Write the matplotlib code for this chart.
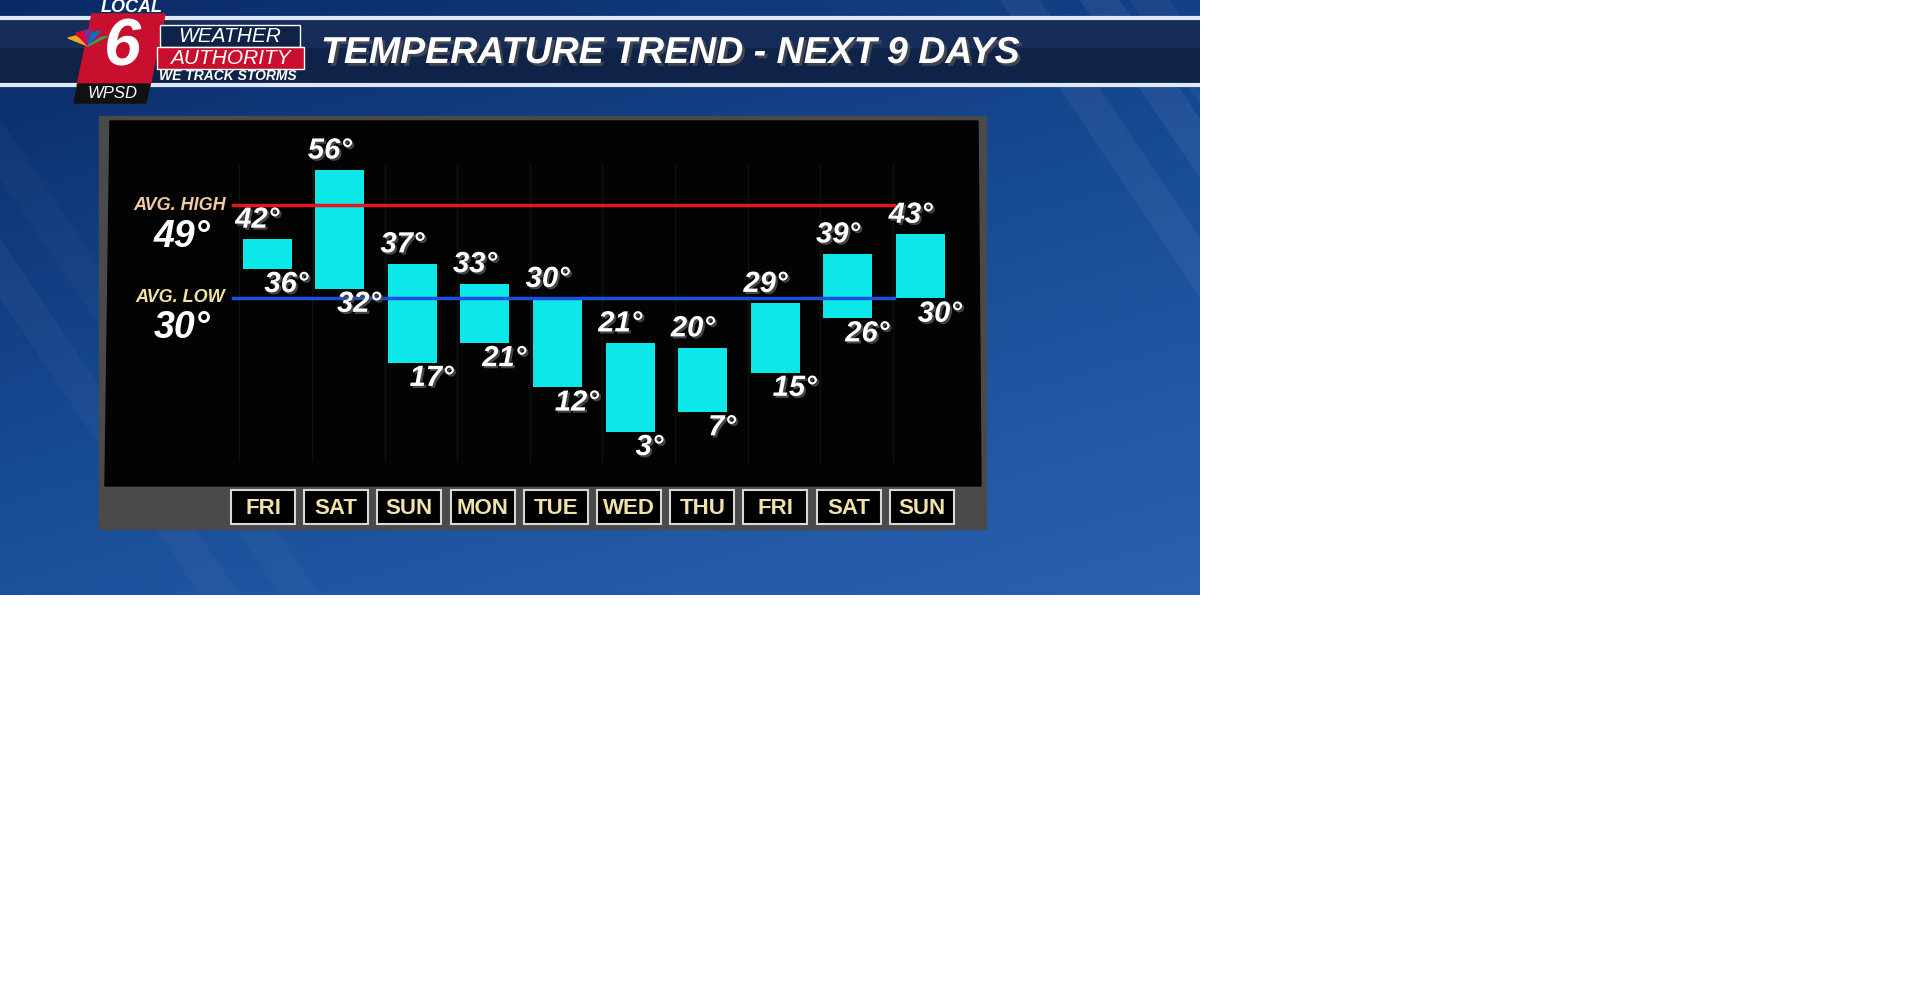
import numpy as np
import matplotlib
matplotlib.use('Agg')
import matplotlib.pyplot as plt
from matplotlib.patches import Rectangle, Polygon
import matplotlib.patheffects as pe

##      DATA       ##
days = ['FRI', 'SAT', 'SUN', 'MON', 'TUE', 'WED', 'THU', 'FRI', 'SAT', 'SUN']
highs = [42, 56, 37, 33, 30, 21, 20, 29, 39, 43]
lows = [36, 32, 17, 21, 12, 3, 7, 15, 26, 30]
avg_high = 49
avg_low = 30
title = 'TEMPERATURE TREND - NEXT 9 DAYS'

W, H = 1200, 595   # graphic size in pixels, top-left of the canvas
FONT = ['Liberation Sans Narrow', 'Liberation Sans', 'DejaVu Sans']

fig = plt.figure(figsize=(19.2, 10.08), dpi=100)
fig.patch.set_facecolor('white')

# background axes in pixel coords
bg = fig.add_axes([0, 1 - H / 1008, W / 1920, H / 1008])
bg.set_xlim(0, W)
bg.set_ylim(H, 0)
bg.axis('off')

# blue gradient background
yy, xx = np.mgrid[0:1:200j, 0:1:300j]
grad = 0.35 + 0.35 * yy + 0.2 * xx
bg.imshow(grad, extent=(0, W, H, 0), cmap=matplotlib.colors.LinearSegmentedColormap.from_list(
    'b', ['#0a2a66', '#174a94', '#2a62b0']), aspect='auto', zorder=0)
# light diagonal streaks
for x0, a in [(-200, 0.03), (-120, 0.025), (1000, 0.05), (1080, 0.06), (1130, 0.04)]:
    bg.add_patch(Polygon([(x0, 0), (x0 + 40, 0), (x0 + 40 + 400, H), (x0 + 400, H)],
                         color='white', alpha=a, lw=0, zorder=1))

# header band
bg.add_patch(Rectangle((0, 17), W, 68, color='#0f2248', zorder=2))
bg.add_patch(Rectangle((0, 17), W, 30, color='#1b3566', alpha=0.6, zorder=2))
bg.plot([0, W], [18, 18], color='#dfe8f5', lw=3, zorder=3)
bg.plot([0, W], [85, 85], color='#dfe8f5', lw=3, zorder=3)
bg.text(321, 53, title, color='white', fontsize=27, fontweight='bold', style='italic',
        family=FONT, va='center', ha='left', zorder=4,
        path_effects=[pe.withSimplePatchShadow(offset=(2, -2), alpha=0.8)])

# logo
bg.add_patch(Polygon([(92, 14), (165, 14), (150, 86), (77, 86)], color='#c8102e', zorder=4))
bg.add_patch(Polygon([(78, 84), (150, 84), (146, 103), (74, 103)], color='#111111', zorder=4))
bg.text(122, 48, '6', color='white', fontsize=48, fontweight='bold', style='italic',
        family=FONT, ha='center', va='center', zorder=5)
bg.text(132, 7, 'LOCAL', color='white', fontsize=13, fontweight='bold', style='italic',
        family=FONT, ha='center', va='center', zorder=5)
bg.text(113, 94, 'WPSD', color='white', fontsize=12, style='italic',
        family=FONT, ha='center', va='center', zorder=5)
for cx, cy, c in [(72, 38, '#f5a623'), (80, 33, '#e4002b'), (88, 31, '#7b2d8e'),
                  (96, 33, '#0a6fc2'), (104, 38, '#2ea84a')]:
    bg.add_patch(Polygon([(88, 46), (cx - 4, cy), (cx + 4, cy - 2)], color=c, zorder=5))
bg.add_patch(Rectangle((160, 25), 140, 22, facecolor='#0f2248', edgecolor='white', lw=1, zorder=4))
bg.text(230, 37, 'WEATHER', color='white', fontsize=15, style='italic',
        family=FONT, ha='center', va='center', zorder=5)
bg.add_patch(Rectangle((157, 47), 147, 22, facecolor='#c8102e', edgecolor='white', lw=1, zorder=4))
bg.text(230, 58, 'AUTHORITY', color='white', fontsize=15, style='italic',
        family=FONT, ha='center', va='center', zorder=5)
bg.text(228, 76, 'WE TRACK STORMS', color='white', fontsize=10, fontweight='bold', style='italic',
        family=FONT, ha='center', va='center', zorder=5)

# panel
bg.add_patch(Rectangle((99, 116), 887, 413, color='#4a4a4a', zorder=2))
bg.add_patch(Polygon([(110, 121), (978, 121), (981, 486), (105, 486)], color='#030303', zorder=3))

# day labels
for i, d in enumerate(days):
    cx = 263 + 73.2 * i
    bg.add_patch(Rectangle((cx - 32, 490), 64, 34, facecolor='black', edgecolor='#d8d8d8', lw=1.5, zorder=4))
    bg.text(cx, 508, d, color='#f0e2a8', fontsize=16, fontweight='bold', family=FONT,
            ha='center', va='center', zorder=5)

# avg labels
bg.text(180, 206, 'AVG. HIGH', color='#f3c9a0', fontsize=13, fontweight='bold', style='italic',
        family=FONT, ha='center', va='center', zorder=5)
bg.text(182, 237, '%d°' % avg_high, color='white', fontsize=27, fontweight='bold', style='italic',
        family=FONT, ha='center', va='center', zorder=5)
bg.text(180, 297, 'AVG. LOW', color='#f0e2a0', fontsize=13, fontweight='bold', style='italic',
        family=FONT, ha='center', va='center', zorder=5)
bg.text(182, 328, '%d°' % avg_low, color='white', fontsize=27, fontweight='bold', style='italic',
        family=FONT, ha='center', va='center', zorder=5)

# data axes: temperature scale
ax = fig.add_axes([107 / 1920, 1 - 496 / 1008, (980 - 107) / 1920, (496 - 125.5) / 1008])
ax.set_xlim(-2.204, 9.82)
ax.set_ylim(-10, 65)
ax.axis('off')
ax.patch.set_alpha(0)

x = np.arange(len(days))
for i in x:
    ax.plot([i - 0.38, i - 0.38], [-3, 57], color='#0b1414', lw=1, zorder=1)
ax.bar(x, np.array(highs) - np.array(lows), bottom=lows, width=0.675, color='#0ce8e8', zorder=2)
ax.plot([-0.47, 8.64], [avg_high, avg_high], color='#e8141e', lw=2.5, zorder=3)
ax.plot([-0.47, 8.64], [avg_low, avg_low], color='#1a4fe0', lw=2.5, zorder=3)

shadow = [pe.withSimplePatchShadow(offset=(1.5, -1.5), alpha=0.9)]
for i in x:
    ax.annotate('%d°' % highs[i], (i, highs[i]), xytext=(-7, 14), textcoords='offset points',
                ha='center', va='center', color='white', fontsize=21, fontweight='bold',
                style='italic', family=FONT, zorder=5, path_effects=shadow)
    ax.annotate('%d°' % lows[i], (i, lows[i]), xytext=(14, -11), textcoords='offset points',
                ha='center', va='center', color='white', fontsize=21, fontweight='bold',
                style='italic', family=FONT, zorder=5, path_effects=shadow)

fig.savefig('out.png', dpi=100, facecolor='white')
